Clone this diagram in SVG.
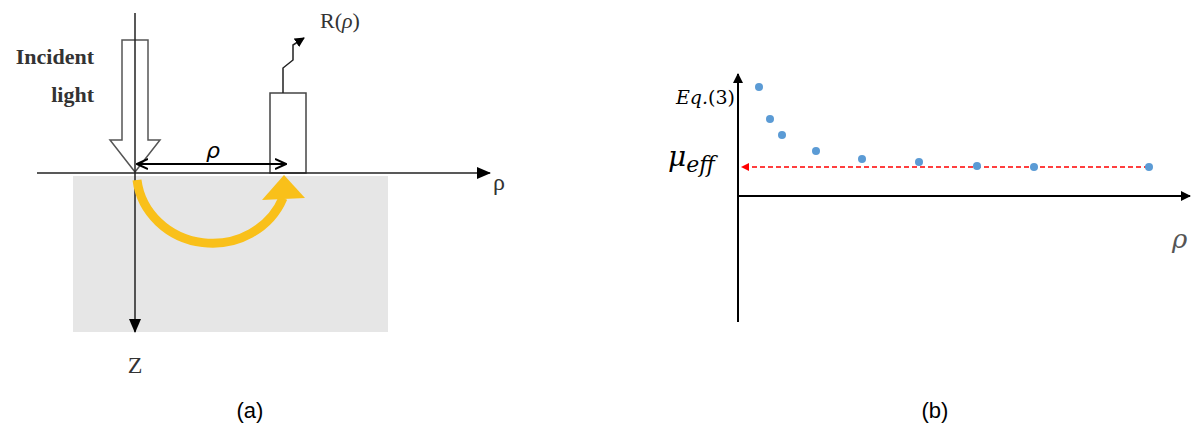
<svg xmlns="http://www.w3.org/2000/svg" width="1195" height="431" viewBox="0 0 1195 431">
<style>
.ln{stroke:#222;stroke-width:1.5;fill:none}
.ax{stroke:#000;stroke-width:2;fill:none}
.t{font-family:"Liberation Serif",serif;fill:#333}
.d{fill:#5B9BD5}
</style>
<defs>
<marker id="ah" markerWidth="10" markerHeight="10" refX="9" refY="5" orient="auto" markerUnits="userSpaceOnUse"><path d="M0,0L10,5L0,10z" fill="#000"/></marker>
<marker id="ah2" markerWidth="14" markerHeight="12" refX="13" refY="6" orient="auto" markerUnits="userSpaceOnUse"><path d="M0,0L14,6L0,12z" fill="#000"/></marker>
<marker id="open" markerWidth="12" markerHeight="12" refX="11" refY="6" orient="auto-start-reverse" markerUnits="userSpaceOnUse"><path d="M0,1L11,6L0,11" fill="none" stroke="#000" stroke-width="2"/></marker>
<marker id="red" markerWidth="8" markerHeight="8" refX="7" refY="4" orient="auto-start-reverse" markerUnits="userSpaceOnUse"><path d="M0,0L8,4L0,8z" fill="#f00"/></marker>
</defs>
<g id="panel-a">
<rect id="medium" x="73" y="176" width="315" height="156" fill="#e6e6e6"/>
<g id="incident">
<path d="M122,40H148V140H160L135,172L110,140H122Z" fill="#fff" stroke="#555" stroke-width="1.5"/>
<text class="t" x="94" y="64" text-anchor="end" font-size="22" font-weight="bold" fill="#444">Incident</text>
<text class="t" x="94" y="102" text-anchor="end" font-size="22" font-weight="bold" fill="#444">light</text>
</g>
<g id="detector">
<rect x="270" y="93" width="36" height="80" fill="#fff" stroke="#444" stroke-width="1.5"/>
<path d="M283,93V68L293,60V45L304,38" class="ln" marker-end="url(#ah)"/>
<text class="t" x="320" y="28" font-size="22">R(<tspan font-style="italic">ρ</tspan>)</text>
</g>
<g id="connectors-a">
<line x1="37" y1="173" x2="490" y2="173" class="ln" marker-end="url(#ah2)"/>
<line x1="135" y1="13" x2="135" y2="332" class="ln" marker-end="url(#ah2)"/>
<line x1="137" y1="164" x2="286" y2="164" stroke="#000" stroke-width="2" marker-start="url(#open)" marker-end="url(#open)"/>
<path d="M137,180 A76,72 0 0 0 283,198" fill="none" stroke="#F9C01A" stroke-width="9"/>
<path d="M284,175L305,198L262,200Z" fill="#F9C01A"/>
</g>
<text x="213" y="158" font-family="DejaVu Sans,sans-serif" font-style="italic" font-size="22" text-anchor="middle" fill="#000">ρ</text>
<text class="t" x="493" y="190" font-size="24">ρ</text>
<text class="t" x="135" y="373" font-size="24" text-anchor="middle">Z</text>
</g>
<g id="panel-b">
<g id="connectors-b">
<line x1="738" y1="322" x2="738" y2="74" class="ax" marker-end="url(#ah)"/>
<line x1="738" y1="196" x2="1190" y2="196" class="ax" marker-end="url(#ah)"/>
<line x1="1149" y1="167" x2="742" y2="167" stroke="#f00" stroke-width="1.5" stroke-dasharray="5,3" marker-end="url(#red)"/>
</g>
<g id="dots">
<circle class="d" cx="759" cy="87" r="4"/>
<circle class="d" cx="770" cy="119" r="4"/>
<circle class="d" cx="782" cy="135" r="4"/>
<circle class="d" cx="816" cy="151" r="4"/>
<circle class="d" cx="862" cy="159" r="4"/>
<circle class="d" cx="919" cy="162" r="4"/>
<circle class="d" cx="977" cy="166" r="4"/>
<circle class="d" cx="1034" cy="167" r="4"/>
<circle class="d" cx="1149" cy="167" r="4"/>
</g>
<text x="668" y="166" font-family="DejaVu Serif,serif" font-style="italic" font-size="28" fill="#000">μ<tspan font-size="22" dy="6">eff</tspan></text>
<text x="676" y="104" font-family="DejaVu Serif,serif" font-size="19" fill="#000"><tspan font-style="italic">Eq.</tspan>(3)</text>
<text x="1172" y="248" font-family="DejaVu Serif,serif" font-style="italic" font-size="26" fill="#555">ρ</text>
</g>
<text x="250" y="418" font-family="Liberation Sans,sans-serif" font-size="22" text-anchor="middle">(a)</text>
<text x="935" y="418" font-family="Liberation Sans,sans-serif" font-size="22" text-anchor="middle">(b)</text>
</svg>
